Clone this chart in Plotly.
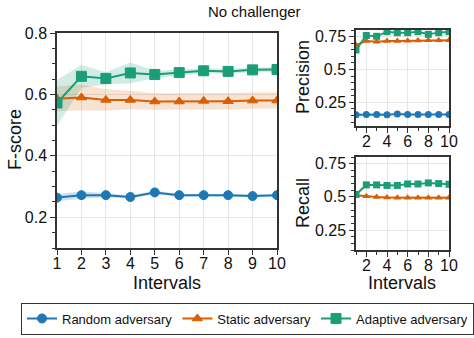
import plotly.graph_objects as go

intervals = list(range(1, 11))
series_names = ["Random adversary", "Static adversary", "Adaptive adversary"]
colors = ["#1f78b4", "#d95f02", "#1b9e77"]
band_colors = ["rgba(31,120,180,0.22)", "rgba(217,95,2,0.18)", "rgba(27,158,119,0.20)"]
symbols = ["circle", "triangle-up", "square"]

# F-score means and spread
f_random = [0.264, 0.272, 0.272, 0.266, 0.281, 0.272, 0.272, 0.272, 0.269, 0.272]
f_random_sd = [0.012, 0.012, 0.007, 0.005, 0.005, 0.004, 0.004, 0.004, 0.004, 0.004]
f_static = [0.586, 0.590, 0.582, 0.582, 0.577, 0.577, 0.579, 0.578, 0.580, 0.580]
f_static_sd = [0.040, 0.042, 0.035, 0.030, 0.027, 0.027, 0.027, 0.027, 0.027, 0.027]
f_adaptive = [0.572, 0.659, 0.652, 0.670, 0.665, 0.671, 0.677, 0.675, 0.680, 0.681]
f_adaptive_sd = [0.075, 0.037, 0.020, 0.034, 0.012, 0.010, 0.008, 0.008, 0.008, 0.008]

# Precision
p_random = [0.155, 0.158, 0.158, 0.156, 0.162, 0.158, 0.158, 0.158, 0.157, 0.158]
p_static = [0.685, 0.717, 0.710, 0.717, 0.717, 0.718, 0.720, 0.722, 0.723, 0.723]
p_adaptive = [0.648, 0.758, 0.752, 0.787, 0.780, 0.780, 0.787, 0.767, 0.780, 0.787]

# Recall
r_random = [0.89, 0.97, 0.97, 0.93, 0.99, 0.97, 0.97, 0.97, 0.95, 0.97]
r_static = [0.513, 0.505, 0.498, 0.495, 0.493, 0.493, 0.493, 0.493, 0.493, 0.493]
r_adaptive = [0.518, 0.590, 0.590, 0.586, 0.586, 0.597, 0.597, 0.605, 0.600, 0.595]

FONT = "Liberation Sans, Arial, Helvetica, sans-serif"
AX = "#333333"
GRID = "#e6e6e6"

fig = go.Figure()

f_means = [f_random, f_static, f_adaptive]
f_sds = [f_random_sd, f_static_sd, f_adaptive_sd]

# Shaded spread bands on the F-score panel
for i in range(3):
    upper = [m + s for m, s in zip(f_means[i], f_sds[i])]
    lower = [m - s for m, s in zip(f_means[i], f_sds[i])]
    fig.add_trace(go.Scatter(x=intervals, y=upper, mode="lines", line=dict(width=0),
                             hoverinfo="skip", showlegend=False, xaxis="x", yaxis="y"))
    fig.add_trace(go.Scatter(x=intervals, y=lower, mode="lines", line=dict(width=0),
                             fill="tonexty", fillcolor=band_colors[i],
                             hoverinfo="skip", showlegend=False, xaxis="x", yaxis="y"))

for i in range(3):
    fig.add_trace(go.Scatter(
        x=intervals, y=f_means[i], mode="lines+markers", name=series_names[i],
        line=dict(color=colors[i], width=2),
        marker=dict(symbol=symbols[i], size=10 if i == 2 else 9, color=colors[i],
                    line=dict(color=colors[i], width=1)),
        xaxis="x", yaxis="y", showlegend=True))

p_vals = [p_random, p_static, p_adaptive]
r_vals = [r_random, r_static, r_adaptive]
for i in range(3):
    fig.add_trace(go.Scatter(
        x=intervals, y=p_vals[i], mode="lines+markers", showlegend=False,
        line=dict(color=colors[i], width=2),
        marker=dict(symbol=symbols[i], size=7, color=colors[i]),
        xaxis="x2", yaxis="y2"))
    fig.add_trace(go.Scatter(
        x=intervals, y=r_vals[i], mode="lines+markers", showlegend=False,
        line=dict(color=colors[i], width=2),
        marker=dict(symbol=symbols[i], size=7, color=colors[i]),
        xaxis="x3", yaxis="y3"))


def xax(domain, anchor, tickvals):
    return dict(domain=domain, anchor=anchor, range=[1, 10], tickmode="array", tickvals=tickvals,
                showgrid=True, gridcolor=GRID, gridwidth=1, zeroline=False,
                showline=True, linecolor=AX, linewidth=1.5, mirror=True,
                ticks="outside", ticklen=5, tickcolor=AX, tickwidth=1.2,
                ticklabelstandoff=-5,
                tickfont=dict(size=16, color="#111", family=FONT), automargin=False,
                minor=dict(ticks="outside", ticklen=3, tickcolor=AX, dtick=1, tick0=1, showgrid=False))


def yax(domain, anchor, rng, tickvals, ticktext):
    return dict(domain=domain, anchor=anchor, range=rng, tickmode="array",
                tickvals=tickvals, ticktext=ticktext,
                showgrid=True, gridcolor=GRID, gridwidth=1, zeroline=False,
                showline=True, linecolor=AX, linewidth=1.5, mirror=True,
                ticks="outside", ticklen=5, tickcolor=AX, tickwidth=1.2,
                tickfont=dict(size=16, color="#111", family=FONT), automargin=False,
                minor=dict(ticks="outside", ticklen=3, tickcolor=AX, dtick=0.05, tick0=0, showgrid=False))


W, H = 474, 338
main_x = [57 / W, 277 / W]
main_y = [1 - 248 / H, 1 - 33 / H]
side_x = [356 / W, 449 / W]
prec_y = [1 - 126 / H, 1 - 30 / H]
rec_y = [1 - 250 / H, 1 - 157 / H]

fig.update_layout(
    width=W, height=H,
    margin=dict(l=0, r=0, t=0, b=0),
    paper_bgcolor="white", plot_bgcolor="white",
    font=dict(family=FONT, color="#111"),
    xaxis=xax(main_x, "y", list(range(1, 11))),
    yaxis=yax(main_y, "x", [0.1, 0.8], [0.2, 0.4, 0.6, 0.8], ["0.2", "0.4", "0.6", "0.8"]),
    xaxis2=xax(side_x, "y2", [2, 4, 6, 8, 10]),
    yaxis2=yax(prec_y, "x2", [0.07, 0.8], [0.25, 0.5, 0.75], ["0.25", "0.5", "0.75"]),
    xaxis3=xax(side_x, "y3", [2, 4, 6, 8, 10]),
    yaxis3=yax(rec_y, "x3", [0.1, 0.8], [0.25, 0.5, 0.75], ["0.25", "0.5", "0.75"]),
    legend=dict(orientation="h", x=251 / W, y=1 - 318.5 / H, xanchor="center", yanchor="middle",
                bordercolor=AX, borderwidth=1, bgcolor="white", traceorder="normal",
                font=dict(size=13, family=FONT, color="#111"), itemwidth=30,
                tracegroupgap=0),
)

annotations = [
    dict(text="No challenger", x=254 / W, y=1 - 12 / H, font=dict(size=15)),
    dict(text="F-score", x=15 / W, y=1 - 140 / H, textangle=-90, font=dict(size=18)),
    dict(text="Intervals", x=167 / W, y=1 - 283 / H, font=dict(size=18)),
    dict(text="Precision", x=303 / W, y=1 - 77 / H, textangle=-90, font=dict(size=18)),
    dict(text="Recall", x=303 / W, y=1 - 203 / H, textangle=-90, font=dict(size=18)),
    dict(text="Intervals", x=402 / W, y=1 - 283 / H, font=dict(size=18)),
]
for a in annotations:
    a.update(xref="paper", yref="paper", showarrow=False, xanchor="center", yanchor="middle")
    a["font"].update(family=FONT, color="#111")
fig.update_layout(annotations=annotations)

fig.write_html("out.html")
